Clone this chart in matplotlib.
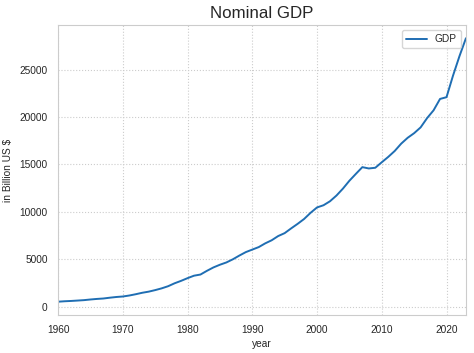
import matplotlib
matplotlib.use("Agg")
import matplotlib.pyplot as plt
import seaborn as sns

years = list(range(1960, 2024))
gdp = [540, 586, 618, 660, 704, 773, 832, 877, 962, 1036,
       1088, 1191, 1327, 1480, 1599, 1761, 1945, 2171, 2479, 2735,
       3019, 3280, 3402, 3794, 4150, 4434, 4675, 5007, 5399, 5764,
       6030, 6294, 6687, 7013, 7456, 7763, 8262, 8739, 9252, 9902,
       10471, 10702, 11120, 11722, 12453, 13282, 14007, 14716, 14578, 14651,
       15231, 15796, 16420, 17192, 17808, 18296, 18905, 19882, 20704, 21903,
       22087, 24349, 26409, 28297]

sns.set_style("whitegrid", {"grid.linestyle": ":"})
plt.rcParams['font.family'] = ['Liberation Sans', 'DejaVu Sans']

fs = 7.3
fig, ax = plt.subplots(figsize=(4.74, 3.53), dpi=100)
fig.subplots_adjust(left=0.1224, right=0.983, top=0.929, bottom=0.108)
ax.plot(years, gdp, color='#1f6eb3', linewidth=1.4, label='GDP')
ax.set_xlim(1960, 2023)
ax.set_title('Nominal GDP', fontsize=12.2, pad=5)
ax.set_xlabel('year', fontsize=fs, labelpad=3)
ax.set_ylabel('in Billion US $', fontsize=fs, labelpad=5)
ax.tick_params(labelsize=fs, pad=4)
ax.legend(loc='upper right', fontsize=fs)
fig.savefig('out.png', dpi=100)
